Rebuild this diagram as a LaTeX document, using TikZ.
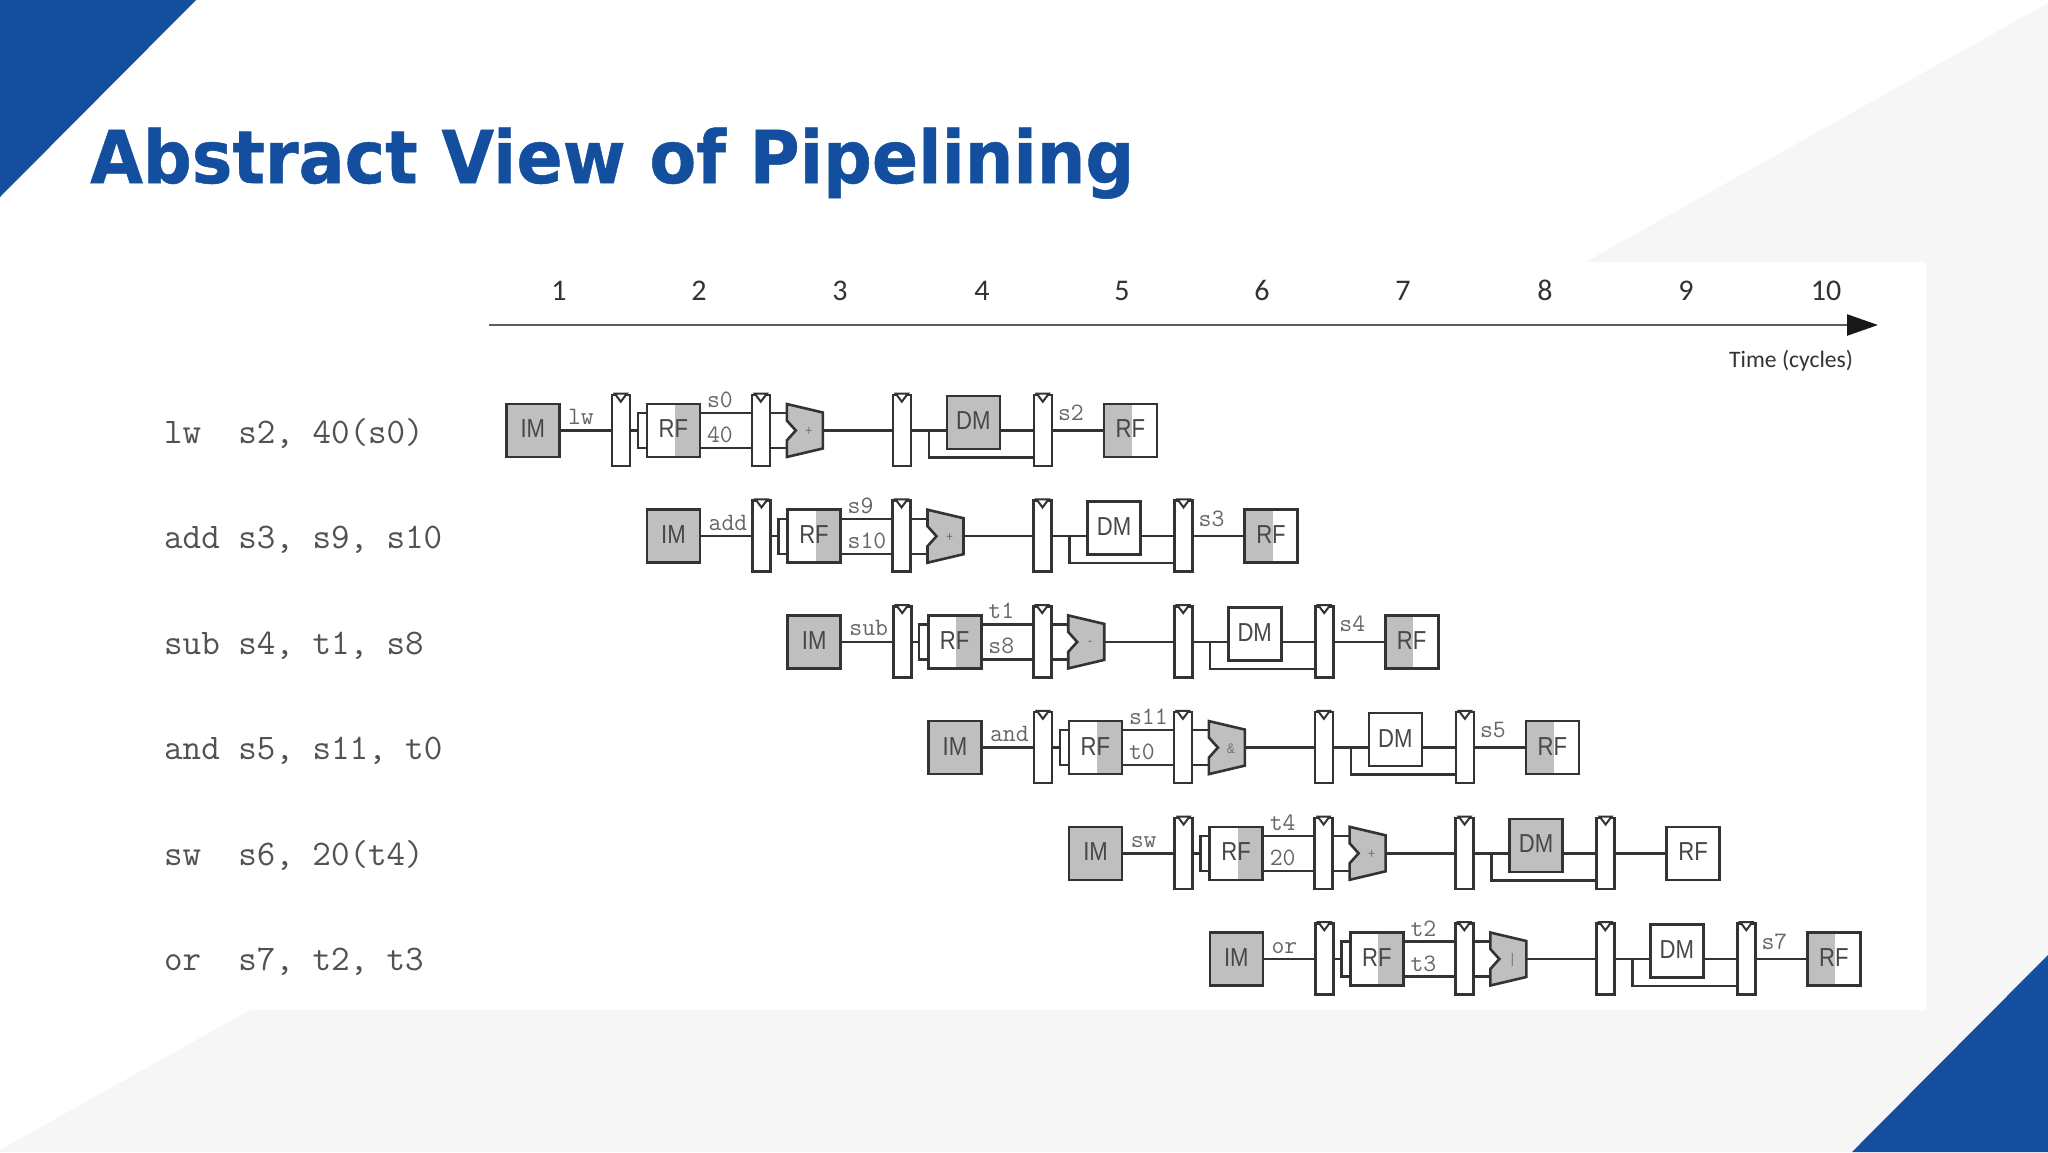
\documentclass[tikz,border=0pt]{standalone}
\usepackage{fontspec}
\usepackage{graphicx}
\usetikzlibrary{arrows.meta,calc}
\newfontfamily\titlefont[FakeBold=0.7]{DejaVu Sans Bold}
\newfontfamily\boxfont[FakeStretch=0.85]{Liberation Sans}
\newfontfamily\axisfont{Carlito}
\definecolor{slideblue}{HTML}{134F9E}
\definecolor{bggray}{HTML}{F6F6F6}
\definecolor{ink}{HTML}{333333}
\definecolor{unitgray}{HTML}{BFBFBF}
\tikzset{
  unitline/.style={draw=ink,line width=2.6pt},
  wire/.style={draw=ink,line width=2.4pt},
  unitbox/.style={unitline,rectangle,inner sep=0pt,minimum width=53pt,minimum height=53pt,
    text depth=3pt,font=\boxfont\fontsize{26}{28}\selectfont,text=ink!90!white},
  imbox/.style={unitbox,fill=unitgray},
  dmgray/.style={fill=unitgray},
  dmwhite/.style={fill=white},
  rfright/.style={path picture={\fill[unitgray] ([xshift=1.5pt]path picture bounding box.north) rectangle (path picture bounding box.south east);}},
  rfleft/.style={path picture={\fill[unitgray] (path picture bounding box.south west) rectangle ([xshift=1.5pt]path picture bounding box.north);}},
  rfwhite/.style={fill=white},
  regbox/.style={unitline,fill=white,rectangle,inner sep=0pt,minimum width=18pt,minimum height=71pt},
  notch/.style={unitline,line width=2pt,fill=white},
  alushape/.style={unitline,fill=unitgray,line join=miter},
  sig/.style={inner sep=0pt,anchor=base west,text=ink!75!white,font=\ttfamily\fontsize{25}{27}\selectfont},
  instr/.style={inner sep=0pt,anchor=base west,text=ink!85!white,font=\ttfamily\fontsize{36}{38}\selectfont},
  tick/.style={inner sep=0pt,anchor=base,text=ink,font=\axisfont\fontsize{30}{32}\selectfont},
  aluop/.style={inner sep=0pt,text=ink!70!white,font=\boxfont\fontsize{14}{14}\selectfont},
}
\begin{document}
\begin{tikzpicture}[x=1pt,y=-1pt]
\useasboundingbox (0,0) rectangle (2048,1152);
\fill[white] (0,0) rectangle (2048,1152);
\fill[bggray] (0,1150) -- (2048,3) -- (2048,1152) -- (0,1152) -- cycle;
\fill[white,rounded corners=2pt] (225,262) rectangle (1926,1010);
\fill[slideblue] (0,0) -- (196,0) -- (0,197) -- cycle;
\fill[slideblue] (2048,955) -- (2048,1152) -- (1852,1152) -- cycle;
\node[anchor=base west,inner sep=0pt,text=slideblue] (title) at (90,183)
  {\resizebox{1044pt}{\height}{\titlefont\fontsize{73}{80}\selectfont Abstract View of Pipelining}};

% time axis
\coordinate (axisL) at (489,325);
\coordinate (axisR) at (1878,325);
\draw[draw=ink!80!white,line width=2.4pt,-{Triangle[length=31pt,width=21pt,color=black!90]}] (axisL) -- (axisR);
\foreach \n/\x in {1/559,2/699,3/840,4/982,5/1122,6/1262,7/1403,8/1545,9/1686,10/1826}
  \node[tick] (cyc\n) at (\x,300) {\n};
\node[inner sep=0pt,anchor=base west,text=ink,font=\axisfont\fontsize{23.6}{25}\selectfont] (timelabel) at (1729,367) {Time (cycles)};

% instructions
\foreach \i/\txt in {0/{lw\ \ s2, 40(s0)},1/{add s3, s9, s10},2/{sub s4, t1, s8},3/{and s5, s11, t0},4/{sw\ \ s6, 20(t4)},5/{or\ \ s7, t2, t3}}{
  \pgfmathsetmacro{\by}{443+105.5*\i}
  \node[instr] (ins\i) at (164,\by) {\txt};
}

% pipeline rows
\foreach \i/\nm/\top/\bot/\op/\dm/\rf/\wr in {
  0/lw/s0/40/+/dmgray/rfleft/s2,
  1/add/s9/s10/+/dmwhite/rfleft/s3,
  2/sub/t1/s8/-/dmwhite/rfleft/s4,
  3/and/s11/t0/\&/dmwhite/rfleft/s5,
  4/sw/t4/20/+/dmgray/rfwhite/,
  5/or/t2/t3/|/dmwhite/rfleft/s7}{
  \pgfmathsetmacro{\ox}{505.8+140.7*\i}
  \pgfmathsetmacro{\oy}{430.5+105.7*\i}
  \begin{scope}[shift={(\ox,\oy)}]
    \node[imbox] (im\i) at (27,0) {IM};
    \node[regbox] (ra\i) at (115,0) {};
    \node[unitbox,fill=white,rfright] (rf\i) at (167.5,0) {RF};
    \node[regbox] (rb\i) at (255,0) {};
    \node[regbox] (rc\i) at (396,0) {};
    \node[unitbox,\dm] (dm\i) at (467.5,-8) {DM};
    \node[regbox] (rd\i) at (537,0) {};
    \node[unitbox,fill=white,\rf] (wb\i) at (624.5,0) {RF};
    % clock notches of the pipeline registers
    \foreach \r in {ra,rb,rc,rd}
      \draw[notch] ([xshift=-6pt]\r\i.north) -- ([xshift=6pt]\r\i.north) -- ([yshift=-8pt]\r\i.north) -- cycle;
    % ALU
    \draw[alushape] (281,-26.5) -- (317,-18) -- (317,18) -- (281,26.5) -- (281,10) -- (290,0) -- (281,-10) -- cycle;
    \coordinate (aluT\i) at (281,-17.5);
    \coordinate (aluB\i) at (281,17.5);
    \coordinate (aluO\i) at (317,0);
    \node[aluop] (op\i) at (303,1) {\op};
    % connectors
    \draw[wire] (im\i.east) -- (ra\i.west);
    \coordinate (brk\i) at (132,0);
    \draw[wire] (ra\i.east) -- (brk\i);
    \draw[wire] ([yshift=17.5pt]rf\i.west) -| (brk\i) |- ([yshift=-17.5pt]rf\i.west);
    \draw[wire] ([yshift=17.5pt]rf\i.east) -- ([yshift=17.5pt]rb\i.west);
    \draw[wire] ([yshift=-17.5pt]rf\i.east) -- ([yshift=-17.5pt]rb\i.west);
    \draw[wire] ([yshift=17.5pt]rb\i.east) -- (aluT\i);
    \draw[wire] ([yshift=-17.5pt]rb\i.east) -- (aluB\i);
    \draw[wire] (aluO\i) -- (rc\i.west);
    \draw[wire] (rc\i.east) -- (rc\i.east -| dm\i.west);
    \coordinate (fb\i) at (423,0);
    \draw[wire] (fb\i) |- ([yshift=-27pt]rd\i.west);
    \draw[wire] (dm\i.east |- rd\i.west) -- (rd\i.west);
    \draw[wire] (rd\i.east) -- (wb\i.west);
    % signal labels
    \node[sig] (lname\i) at (62,-6) {\nm};
    \node[sig] (ltop\i) at (201,-23) {\top};
    \node[sig] (lbot\i) at (201,12) {\bot};
    \ifnum\i=4\else \node[sig] (lwr\i) at (552,-10) {\wr}; \fi
  \end{scope}
}
\end{tikzpicture}
\end{document}
